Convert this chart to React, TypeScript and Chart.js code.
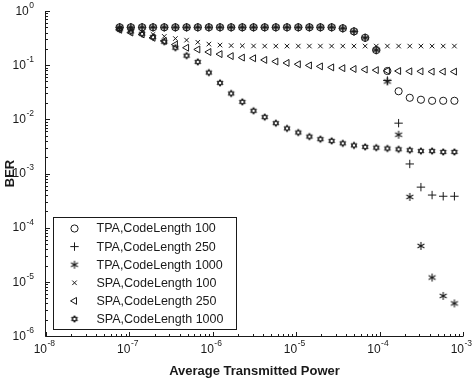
import React, { useEffect, useRef } from 'react';
import { Chart, registerables } from 'chart.js';
import { drawPoint } from 'chart.js/helpers';

Chart.register(...registerables);

// Average transmitted power (x values, shared by all series)
const powerLevels = [
  7.64e-8, 1.04e-7, 1.42e-7, 1.92e-7, 2.62e-7, 3.56e-7, 4.85e-7, 6.61e-7, 8.97e-7, 1.22e-6,
  1.66e-6, 2.26e-6, 3.08e-6, 4.19e-6, 5.7e-6, 7.76e-6, 1.06e-5, 1.44e-5, 1.95e-5, 2.66e-5,
  3.62e-5, 4.93e-5, 6.71e-5, 9.12e-5, 1.24e-4, 1.69e-4, 2.3e-4, 3.13e-4, 4.26e-4, 5.79e-4,
  7.89e-4,
];

const tpa100 = [
  0.5, 0.5, 0.5, 0.5, 0.5, 0.5, 0.5, 0.5, 0.5, 0.5,
  0.5, 0.5, 0.5, 0.5, 0.5, 0.5, 0.5, 0.5, 0.5, 0.5,
  0.48, 0.42, 0.32, 0.19, 0.078, 0.033, 0.025, 0.023, 0.022, 0.022,
  0.022,
];
const tpa250 = [
  0.5, 0.5, 0.5, 0.5, 0.5, 0.5, 0.5, 0.5, 0.5, 0.5,
  0.5, 0.5, 0.5, 0.5, 0.5, 0.5, 0.5, 0.5, 0.5, 0.5,
  0.48, 0.42, 0.32, 0.19, 0.052, 0.0085, 0.0015, 0.00056, 0.0004, 0.00038,
  0.00038,
];
const tpa1000 = [
  0.5, 0.5, 0.5, 0.5, 0.5, 0.5, 0.5, 0.5, 0.5, 0.5,
  0.5, 0.5, 0.5, 0.5, 0.5, 0.5, 0.5, 0.5, 0.5, 0.5,
  0.48, 0.42, 0.32, 0.19, 0.05, 0.0052, 0.00037, 0.000046, 0.000012, 0.0000055,
  0.000004,
];
const spa100 = [
  0.46, 0.44, 0.41, 0.37, 0.34, 0.31, 0.29, 0.265, 0.245, 0.235,
  0.23, 0.228, 0.226, 0.225, 0.225, 0.225, 0.225, 0.225, 0.225, 0.225,
  0.225, 0.225, 0.225, 0.225, 0.225, 0.225, 0.225, 0.225, 0.225, 0.225,
  0.225,
];
const spa250 = [
  0.45, 0.4, 0.37, 0.32, 0.28, 0.24, 0.21, 0.195, 0.175, 0.16,
  0.147, 0.138, 0.134, 0.125, 0.117, 0.11, 0.104, 0.099, 0.095, 0.091,
  0.088, 0.085, 0.083, 0.081, 0.079, 0.078, 0.077, 0.077, 0.076, 0.076,
  0.076,
];
const spa1000 = [
  0.46, 0.42, 0.38, 0.33, 0.27, 0.21, 0.15, 0.115, 0.073, 0.047,
  0.03, 0.021, 0.0144, 0.011, 0.0085, 0.0068, 0.0057, 0.0048, 0.0043, 0.004,
  0.0036, 0.0033, 0.0031, 0.003, 0.0029, 0.0028, 0.0027, 0.0026, 0.0026, 0.0025,
  0.0025,
];

const seriesLabels = [
  'TPA,CodeLength 100',
  'TPA,CodeLength 250',
  'TPA,CodeLength 1000',
  'SPA,CodeLength 100',
  'SPA,CodeLength 250',
  'SPA,CodeLength 1000',
];

const xTickExponents = [-8, -7, -6, -5, -4, -3];
const yTickExponents = [0, -1, -2, -3, -4, -5, -6];
const xAxisTitle = 'Average Transmitted Power';
const yAxisTitle = 'BER';

const FONT = '"Liberation Sans", Arial, Helvetica, sans-serif';
const INK = '#1a1a1a';

function makeCanvas(size: number) {
  const c = document.createElement('canvas');
  c.width = size;
  c.height = size;
  return c;
}

function makeHexagram(r: number, lw: number): HTMLCanvasElement {
  const size = Math.ceil(2 * r + lw + 2);
  const c = makeCanvas(size);
  const g = c.getContext('2d')!;
  g.strokeStyle = INK;
  g.lineWidth = lw;
  const cx = size / 2;
  const cy = size / 2;
  for (const off of [-Math.PI / 2, Math.PI / 2]) {
    g.beginPath();
    for (let k = 0; k < 3; k++) {
      const ang = off + (k * 2 * Math.PI) / 3;
      const px = cx + r * Math.cos(ang);
      const py = cy + r * Math.sin(ang);
      if (k === 0) g.moveTo(px, py);
      else g.lineTo(px, py);
    }
    g.closePath();
    g.stroke();
  }
  return c;
}

function makeAsterisk(r: number, lw: number): HTMLCanvasElement {
  const size = Math.ceil(2 * r + lw + 2);
  const c = makeCanvas(size);
  const g = c.getContext('2d')!;
  g.strokeStyle = INK;
  g.lineWidth = lw;
  const cx = size / 2;
  const cy = size / 2;
  g.beginPath();
  for (const deg of [90, 30, 150]) {
    const ang = (deg * Math.PI) / 180;
    g.moveTo(cx - r * Math.cos(ang), cy - r * Math.sin(ang));
    g.lineTo(cx + r * Math.cos(ang), cy + r * Math.sin(ang));
  }
  g.stroke();
  return c;
}

type MarkerSpec = { pointStyle: any; radius: number; rotation: number; borderWidth: number };

export default function App() {
  const ref = useRef<HTMLCanvasElement | null>(null);

  useEffect(() => {
    if (!ref.current) return;
    const hexagram = makeHexagram(3.4, 1);
    const asterisk = makeAsterisk(4, 1.1);

    const markers: MarkerSpec[] = [
      { pointStyle: 'circle', radius: 3.6, rotation: 0, borderWidth: 1 },
      { pointStyle: 'cross', radius: 4.2, rotation: 0, borderWidth: 1 },
      { pointStyle: asterisk, radius: 4, rotation: 0, borderWidth: 1 },
      { pointStyle: 'crossRot', radius: 3.2, rotation: 0, borderWidth: 1 },
      { pointStyle: 'triangle', radius: 4, rotation: -90, borderWidth: 1 },
      { pointStyle: hexagram, radius: 3.4, rotation: 0, borderWidth: 1 },
    ];
    const seriesValues = [tpa100, tpa250, tpa1000, spa100, spa250, spa1000];

    const datasets = seriesValues.map((vals, i) => ({
      label: seriesLabels[i],
      data: vals.map((v, j) => ({ x: powerLevels[j], y: v })),
      showLine: false,
      pointStyle: markers[i].pointStyle,
      pointRadius: markers[i].radius,
      pointRotation: markers[i].rotation,
      pointBorderWidth: markers[i].borderWidth,
      pointBorderColor: INK,
      pointBackgroundColor: 'rgba(0,0,0,0)',
      borderColor: INK,
      backgroundColor: 'rgba(0,0,0,0)',
    }));

    const decor = {
      id: 'decor',
      afterDraw(chart: any) {
        const { ctx, chartArea: a } = chart;
        const xs = chart.scales.x;
        const ys = chart.scales.y;
        ctx.save();
        ctx.strokeStyle = INK;
        ctx.fillStyle = INK;
        ctx.lineWidth = 1;

        const axX = a.left - 0.5;
        const axY = a.bottom + 0.5;
        // axis lines
        ctx.beginPath();
        ctx.moveTo(axX, a.top);
        ctx.lineTo(axX, axY);
        ctx.lineTo(a.right, axY);
        ctx.stroke();

        // y ticks
        ctx.beginPath();
        for (const e of yTickExponents) {
          const py = Math.round(ys.getPixelForValue(Math.pow(10, e))) + 0.5;
          ctx.moveTo(axX, py);
          ctx.lineTo(axX + 4.5, py);
          if (e > -6) {
            for (let m = 2; m <= 9; m++) {
              const my = Math.round(ys.getPixelForValue(m * Math.pow(10, e - 1))) + 0.5;
              ctx.moveTo(axX, my);
              ctx.lineTo(axX + 2.5, my);
            }
          }
        }
        // x ticks
        for (const e of xTickExponents) {
          const px = Math.round(xs.getPixelForValue(Math.pow(10, e))) + 0.5;
          ctx.moveTo(px, axY);
          ctx.lineTo(px, axY - 4.5);
          if (e < -3) {
            for (let m = 2; m <= 9; m++) {
              const mx = Math.round(xs.getPixelForValue(m * Math.pow(10, e))) + 0.5;
              ctx.moveTo(mx, axY);
              ctx.lineTo(mx, axY - 2.5);
            }
          }
        }
        ctx.stroke();

        // tick labels
        ctx.textBaseline = 'middle';
        const baseFont = `12px ${FONT}`;
        const supFont = `8.5px ${FONT}`;
        for (const e of yTickExponents) {
          const py = ys.getPixelForValue(Math.pow(10, e));
          const sup = String(e);
          ctx.font = supFont;
          const sw = ctx.measureText(sup).width;
          const xr = a.left - 12;
          ctx.textAlign = 'left';
          ctx.fillText(sup, xr - sw, py - 5.5);
          ctx.font = baseFont;
          ctx.textAlign = 'right';
          ctx.fillText('10', xr - sw - 0.5, py + 0.5);
        }
        for (const e of xTickExponents) {
          const px = xs.getPixelForValue(Math.pow(10, e));
          ctx.font = baseFont;
          ctx.textAlign = 'right';
          ctx.fillText('10', px + 1, a.bottom + 14);
          ctx.font = supFont;
          ctx.textAlign = 'left';
          ctx.fillText(String(e), px + 1.5, a.bottom + 8);
        }

        // axis titles
        ctx.font = `bold 13px ${FONT}`;
        ctx.textAlign = 'center';
        ctx.fillText(xAxisTitle, (a.left + a.right) / 2, 371.5);
        ctx.save();
        ctx.translate(10, (a.top + a.bottom) / 2);
        ctx.rotate(-Math.PI / 2);
        ctx.fillText(yAxisTitle, 0, 0);
        ctx.restore();

        // legend box
        const bx = a.left + 7.5;
        const by = 217.5;
        const bw = 183;
        const bh = 112;
        ctx.fillStyle = '#fff';
        ctx.fillRect(bx, by, bw, bh);
        ctx.strokeStyle = INK;
        ctx.lineWidth = 1;
        ctx.strokeRect(bx, by, bw, bh);
        ctx.font = `12.5px ${FONT}`;
        ctx.textAlign = 'left';
        ctx.textBaseline = 'middle';
        for (let k = 0; k < seriesLabels.length; k++) {
          const ry = 228.5 + k * 18.1;
          const mk = markers[k];
          ctx.save();
          ctx.strokeStyle = INK;
          ctx.fillStyle = 'rgba(0,0,0,0)';
          ctx.lineWidth = mk.borderWidth;
          drawPoint(ctx, { pointStyle: mk.pointStyle, radius: mk.radius, rotation: mk.rotation, borderWidth: mk.borderWidth } as any, bx + 21, ry);
          ctx.restore();
          ctx.fillStyle = INK;
          ctx.fillText(seriesLabels[k], bx + 43, ry + 0.5);
        }
        ctx.restore();
      },
    };

    const chart = new Chart(ref.current, {
      type: 'scatter',
      data: { datasets: datasets as any },
      options: {
        animation: false,
        responsive: false,
        devicePixelRatio: 1,
        layout: { padding: { left: 46, top: 11, right: 11, bottom: 43 } },
        scales: {
          x: { type: 'logarithmic', min: 1e-8, max: 1e-3, display: false },
          y: { type: 'logarithmic', min: 1e-6, max: 1, display: false },
        },
        plugins: { legend: { display: false }, tooltip: { enabled: false } },
      },
      plugins: [decor],
    });
    return () => chart.destroy();
  }, []);

  return (
    <div style={{ position: 'absolute', left: 0, top: 0, width: 474, height: 379, background: '#fff' }}>
      <canvas ref={ref} width={474} height={379} />
    </div>
  );
}
